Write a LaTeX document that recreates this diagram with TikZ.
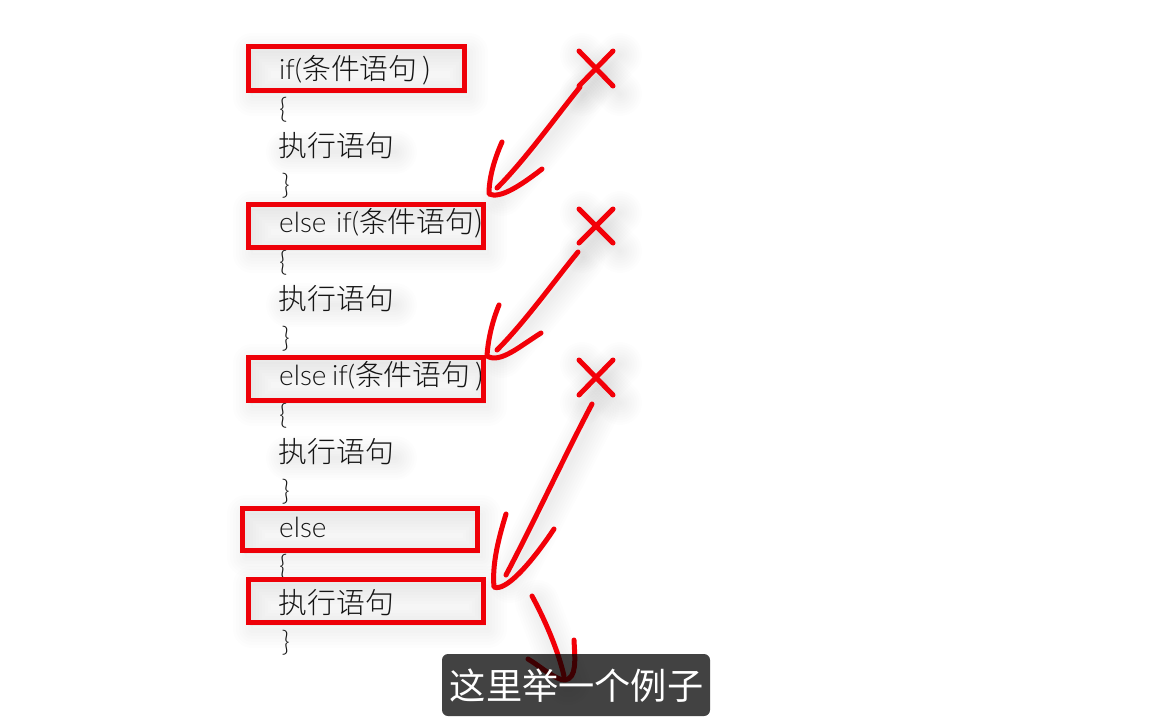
\documentclass[tikz,border=0pt]{standalone}
\usepackage{fontspec}
\setmainfont{Lato Light}
\newfontfamily\cjk[Scale=1.03]{Noto Sans CJK SC Light}
\newfontfamily\cjkr{Noto Sans CJK SC}
\newcommand{\softpath}[1]{\foreach \w in {4,9,...,44}{\draw[black,opacity=.008,line width=\w pt,line cap=round,line join=round,xshift=5pt,yshift=-6pt] #1;}}
\newcommand{\softrect}[4]{\foreach \w in {2,8,...,38}{\draw[black,opacity=.007,line width=\w pt,line join=round,xshift=4pt,yshift=-6pt] (#1,#2) rectangle (#3,#4);}\fill[black,opacity=.035,xshift=2pt,yshift=-3pt] (#1,#2) rectangle (#3,#4);}
\tikzset{
  codetext/.style={anchor=base west,inner sep=0pt,text=black!92,font=\fontsize{28}{28}\selectfont},
  redbox/.style={draw=boxred,line width=5pt,inner sep=0pt,rectangle},
  ink/.style={draw=inkred,line width=5pt,line cap=round,line join=round},
  subbox/.style={fill=black,fill opacity=.74,rounded corners=6pt,inner sep=0pt,rectangle},
  subtext/.style={text=white,inner sep=0pt,font=\cjkr\fontsize{36.2}{36.2}\selectfont}
}
\definecolor{boxred}{RGB}{238,0,8}
\definecolor{inkred}{RGB}{242,0,8}
\begin{document}
\begin{tikzpicture}[x=1pt,y=-1pt]
\useasboundingbox[fill=white] (0,0) rectangle (1152,720);
% soft shadows
\softrect{248}{46}{465}{91}
\softrect{248}{204}{484}{248}
\softrect{248}{357}{484}{401}
\softrect{242}{508}{478}{551}
\softrect{248}{579}{484}{623}
\foreach \y in {146,299,452} {\softpath{(283,\y) -- (390,\y)}}
\softpath{(577,49) -- (615,88)}\softpath{(615,49) -- (577,88)}
\softpath{(577,207) -- (615,245)}\softpath{(615,207) -- (577,245)}
\softpath{(577,358) -- (615,397)}\softpath{(615,358) -- (577,397)}
\softpath{(580,88) -- (497,188)}\softpath{(578,252) -- (497,350)}\softpath{(592,404) -- (505,575)}\softpath{(532,596) -- (563,677)}
% code text
\node[codetext] (t1) at (279,79.5) {if(\cjk 条件语句\,)};
\node[codetext] (b1) at (279,118) {\{};
\node[codetext] (s1) at (278.5,156.5) {\cjk 执行语句};
\node[codetext] (c1) at (281.5,194) {\}};
\node[codetext] (t2) at (279,232.5) {else\hspace{2pt} if(\cjk 条件语句)};
\node[codetext] (b2) at (279,271) {\{};
\node[codetext] (s2) at (278.5,309.5) {\cjk 执行语句};
\node[codetext] (c2) at (281.5,347) {\}};
\node[codetext] (t3) at (279,385.5) {else\hspace{-2pt} if(\cjk 条件语句\,)};
\node[codetext] (b3) at (279,424) {\{};
\node[codetext] (s3) at (278.5,462.5) {\cjk 执行语句};
\node[codetext] (c3) at (281.5,500) {\}};
\node[codetext] (t4) at (279,537) {else};
\node[codetext] (b4) at (279,575) {\{};
\node[codetext] (s4) at (278.5,613.5) {\cjk 执行语句};
\node[codetext] (c4) at (281.5,651) {\}};
% red boxes
\node[redbox,minimum width=216pt,minimum height=44pt] (box1) at (356.5,68.5) {};
\node[redbox,minimum width=235pt,minimum height=43pt] (box2) at (366,226) {};
\node[redbox,minimum width=235pt,minimum height=43pt] (box3) at (366,379) {};
\node[redbox,minimum width=235pt,minimum height=42pt] (box4) at (360,529.5) {};
\node[redbox,minimum width=235pt,minimum height=43pt] (box5) at (366,601) {};
% crosses
\coordinate (x1a) at (579,51); \coordinate (x1b) at (613,86); \coordinate (x1c) at (613,51); \coordinate (x1d) at (579,86);
\coordinate (x2a) at (579,209); \coordinate (x2b) at (613,243); \coordinate (x2c) at (613,209); \coordinate (x2d) at (579,243);
\coordinate (x3a) at (579,360); \coordinate (x3b) at (613,395); \coordinate (x3c) at (613,360); \coordinate (x3d) at (579,395);
\draw[ink] (x1a) -- (x1b); \draw[ink] (x1c) -- (x1d);
\draw[ink] (x2a) -- (x2b); \draw[ink] (x2c) -- (x2d);
\draw[ink] (x3a) -- (x3b); \draw[ink] (x3c) -- (x3d);
% arrow 1
\coordinate (a1s) at (580,87); \coordinate (a1e) at (497,188);
\coordinate (h1a) at (502,142); \coordinate (h1t) at (489,194); \coordinate (h1b) at (542,169);
\draw[ink] (a1s) .. controls (555,118) and (525,160) .. (a1e);
\draw[ink] (h1a) .. controls (494,160) and (489,178) .. (h1t) .. controls (500,199) and (520,186) .. (h1b);
% arrow 2
\coordinate (a2s) at (578,252); \coordinate (a2e) at (497,350);
\coordinate (h2a) at (499,305); \coordinate (h2t) at (487,356); \coordinate (h2b) at (541,333);
\draw[ink] (a2s) .. controls (555,280) and (525,322) .. (a2e);
\draw[ink] (h2a) .. controls (492,322) and (488,340) .. (h2t) .. controls (500,364) and (520,346) .. (h2b);
% arrow 3
\coordinate (a3s) at (592,404); \coordinate (a3e) at (506,575);
\coordinate (h3a) at (506,514); \coordinate (h3t) at (494,587); \coordinate (h3b) at (554,529);
\draw[ink] (a3s) .. controls (565,455) and (535,520) .. (a3e);
\draw[ink] (h3a) .. controls (498,540) and (492,565) .. (h3t) .. controls (505,592) and (530,565) .. (h3b);
% arrow 4
\coordinate (a4s) at (532,596); \coordinate (a4e) at (564,676);
\coordinate (h4a) at (574,640); \coordinate (h4t) at (565,680); \coordinate (h4b) at (528,659);
\draw[ink] (a4s) .. controls (545,620) and (558,650) .. (a4e);
\draw[ink] (h4a) .. controls (575,660) and (577,678) .. (h4t) .. controls (555,680) and (540,666) .. (h4b);
% subtitle
\node[subbox,minimum width=268pt,minimum height=62pt] (subbg) at (576,685) {};
\node[subtext] (sub) at (576.5,686) {这里举一个例子};
\end{tikzpicture}
\end{document}
